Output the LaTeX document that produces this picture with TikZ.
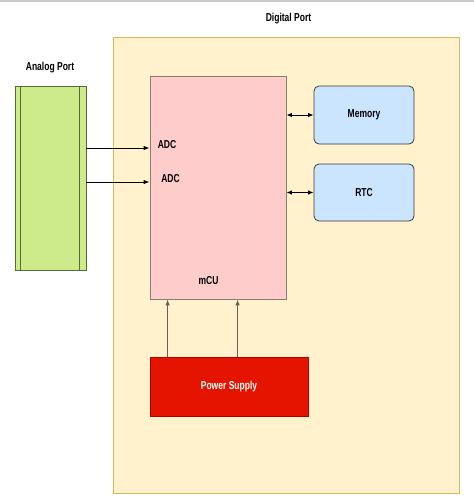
\documentclass[tikz,border=0pt]{standalone}
\usepackage{fontspec}
\setmainfont{Liberation Sans}
\usetikzlibrary{arrows.meta}
\definecolor{portfill}{HTML}{FFF2CC}
\definecolor{portdraw}{HTML}{D6B656}
\definecolor{analogfill}{HTML}{CDEB8B}
\definecolor{analogdraw}{HTML}{55693A}
\definecolor{mcufill}{HTML}{FFCCCC}
\definecolor{mcudraw}{HTML}{8C7B70}
\definecolor{blockfill}{HTML}{CCE5FF}
\definecolor{blockdraw}{HTML}{36393D}
\definecolor{psfill}{HTML}{E51400}
\definecolor{psdraw}{HTML}{B20000}
\definecolor{powerline}{HTML}{6A5D4D}
\newcommand{\squeezed}[1]{\scalebox{0.74}[1]{#1}}
\tikzset{
	label text/.style={font=\fontsize{11.5}{13}\selectfont\bfseries,inner sep=0pt},%
	port/.style={draw=portdraw,fill=portfill,line width=1pt,inner sep=0pt},%
	analog/.style={draw=analogdraw,fill=analogfill,line width=0.8pt,inner sep=0pt},%
	mcubox/.style={draw=mcudraw,fill=mcufill,line width=0.8pt,inner sep=0pt},%
	block/.style={draw=blockdraw,fill=blockfill,line width=0.8pt,rounded corners=5pt,inner sep=0pt,label text},%
	supply/.style={draw=psdraw,fill=psfill,line width=0.8pt,inner sep=0pt,label text,text=white},%
	sig/.style={-{Latex[length=6pt,width=4.5pt]},line width=1pt},%
	bus/.style={{Latex[length=5.5pt,width=4.5pt]}-{Latex[length=5.5pt,width=4.5pt]},line width=1pt},%
	power/.style={-{Latex[length=6pt,width=4.5pt]},line width=1pt,powerline},%
}

\begin{document}
\begin{tikzpicture}[%
		x=1pt,y=-1pt,%
		]
		\useasboundingbox (0,0) rectangle (474,501);
		\draw[gray!40,line width=2pt] (0,1) -- (474,1);
		% ports
		\node[port,minimum width=346pt,minimum height=456pt] (digital) at (286,265) {};
		\node[label text] (digitallabel) at (288.5,19) {\squeezed{Digital Port}};
		\node[analog,minimum width=71pt,minimum height=184pt] (analog) at (50.5,178) {};
		\draw[analogdraw,line width=0.8pt] ([xshift=6pt]analog.north west) -- ([xshift=6pt]analog.south west);
		\draw[analogdraw,line width=0.8pt] ([xshift=-7pt]analog.north east) -- ([xshift=-7pt]analog.south east);
		\node[label text] (analoglabel) at (50,68) {\squeezed{Analog Port}};
		% controller
		\node[mcubox,minimum width=136pt,minimum height=223pt] (mcu) at (218,187.5) {};
		\node[label text] (adca) at (167,145) {\squeezed{ADC}};
		\node[label text] (adcb) at (170.5,179) {\squeezed{ADC}};
		\node[label text] (mculabel) at (208.5,281) {\squeezed{mCU}};
		% peripherals
		\node[block,minimum width=100pt,minimum height=58pt] (memory) at (364,115) {\squeezed{Memory}};
		\node[block,minimum width=100pt,minimum height=57pt] (rtc) at (364,192.5) {\squeezed{RTC}};
		\node[supply,minimum width=158pt,minimum height=59pt] (ps) at (229,386.5) {\squeezed{Power Supply}};
		% connections
		\draw[sig] (analog.east |- 0,148) -- (mcu.west |- 0,148);
		\draw[sig] (analog.east |- 0,182) -- (mcu.west |- 0,182);
		\draw[bus] (mcu.east |- memory.west) -- (memory.west);
		\draw[bus] (mcu.east |- rtc.west) -- (rtc.west);
		\draw[power] ([xshift=18pt]ps.north west) -- ([xshift=18pt]mcu.south west);
		\draw[power] ([xshift=88pt]ps.north west) -- ([xshift=88pt]mcu.south west);
	\end{tikzpicture}
\end{document}
